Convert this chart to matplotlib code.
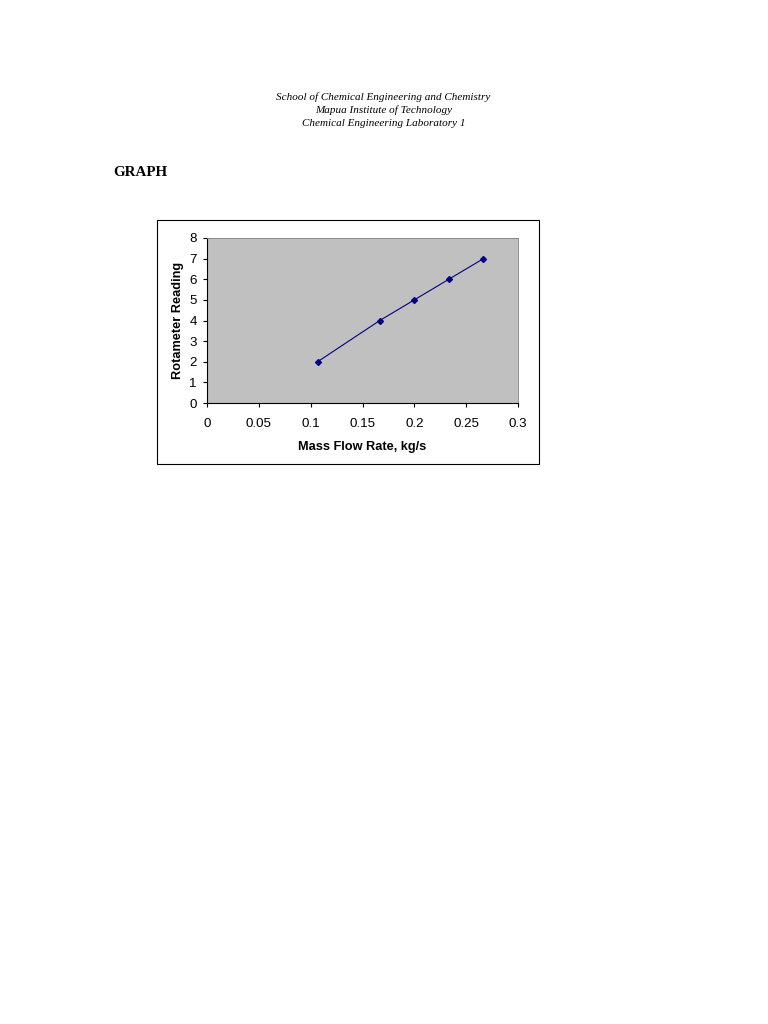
import matplotlib
matplotlib.use("Agg")
import matplotlib.pyplot as plt
from matplotlib.patches import Rectangle

# mass flow rate (kg/s) vs rotameter reading
mass_flow = [0.1067, 0.1667, 0.2, 0.2333, 0.2667]
reading = [2, 4, 5, 6, 7]
header_lines = ["School of Chemical Engineering and Chemistry",
                "Mapua Institute of Technology",
                "Chemical Engineering Laboratory 1"]

fig = plt.figure(figsize=(7.68, 10.24), dpi=100)

# header
for i, line in enumerate(header_lines):
    fig.text(383.5/768, 1 - (97 + 13*i)/1024, line, ha="center", va="center",
             family="Liberation Serif", style="italic", fontsize=8)
fig.text(113/768, 1 - 173/1024, "GRAPH", ha="left", va="center",
         family="Liberation Serif", weight="bold", fontsize=10.8)

# chart border
fig.patches.append(Rectangle((157/768, 1 - 464/1024), (539-157)/768, (464-220)/1024,
                             transform=fig.transFigure, fill=False,
                             edgecolor="black", linewidth=0.8))

ax = fig.add_axes([207/768, 1 - 403/1024, (518-207)/768, (403-238)/1024])
ax.set_facecolor("#c0c0c0")
ax.plot(mass_flow, reading, color="#000080", marker="D", markersize=3, linewidth=0.8)
ax.set_xlim(0, 0.3)
ax.set_ylim(0, 8)
ax.set_xticks([0, 0.05, 0.1, 0.15, 0.2, 0.25, 0.3])
ax.set_xticklabels(["0", "0.05", "0.1", "0.15", "0.2", "0.25", "0.3"])
ax.set_yticks(range(0, 9))
for lab in ax.get_xticklabels() + ax.get_yticklabels():
    lab.set_family("Liberation Sans")
    lab.set_fontsize(9.6)
ax.tick_params(direction="out", length=3, width=0.8)
ax.tick_params(axis="x", pad=7.5)
ax.tick_params(axis="y", pad=4.5)
for s in ["top", "right"]:
    ax.spines[s].set_color("#808080")
    ax.spines[s].set_linewidth(0.6)
for s in ["left", "bottom"]:
    ax.spines[s].set_linewidth(0.8)
ax.set_xlabel("Mass Flow Rate, kg/s", family="Liberation Sans", weight="bold",
              fontsize=9.2, labelpad=8)
ax.set_ylabel("Rotameter Reading", family="Liberation Sans", weight="bold",
              fontsize=9.2, labelpad=3.5)

fig.savefig("out.png", dpi=100)
